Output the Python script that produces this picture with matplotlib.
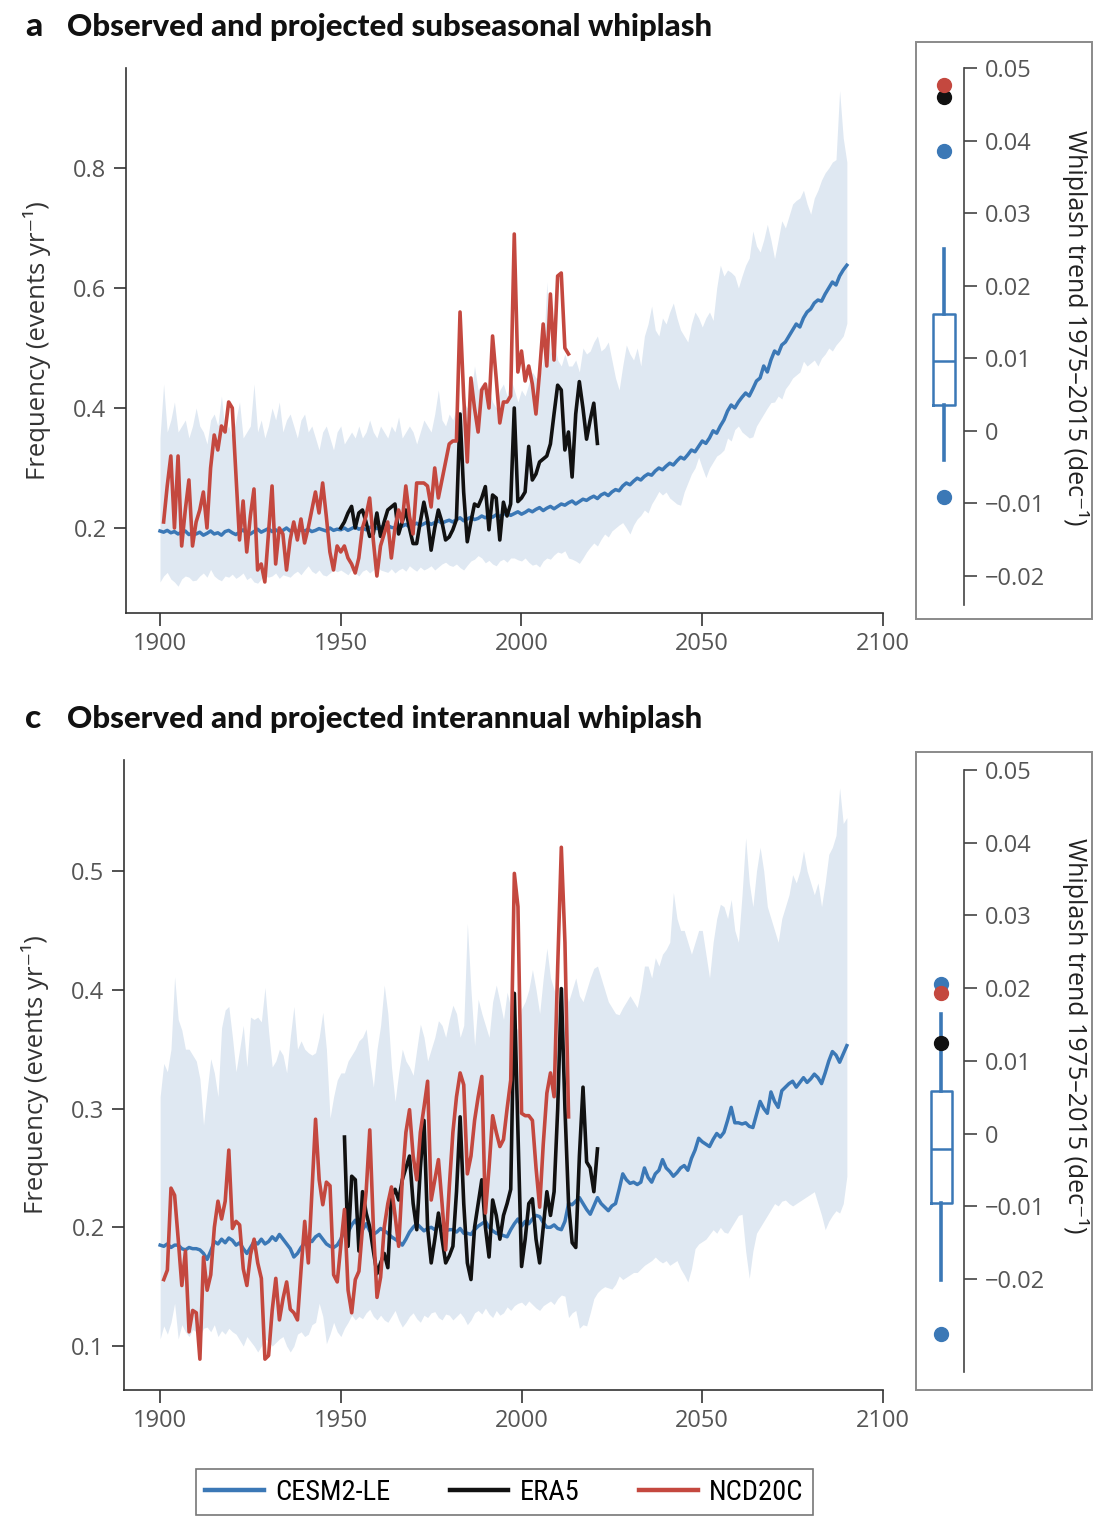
import numpy as np
import matplotlib
matplotlib.use("Agg")
import matplotlib.pyplot as plt
from matplotlib.patches import Rectangle
from matplotlib.lines import Line2D

# ---------------- data ----------------
years_model = list(range(1900, 2091))

# Panel a (subseasonal)
a_cesm_mean = [
    0.195, 0.193, 0.196, 0.192, 0.194, 0.190, 0.193, 0.195, 0.189, 0.192,
    0.190, 0.193, 0.188, 0.191, 0.195, 0.190, 0.192, 0.188, 0.194, 0.196,
    0.192, 0.189, 0.193, 0.197, 0.191, 0.190, 0.194, 0.198, 0.193, 0.196,
    0.199, 0.194, 0.197, 0.193, 0.196, 0.200, 0.195, 0.198, 0.194, 0.197,
    0.195, 0.198, 0.194, 0.196, 0.199, 0.197, 0.195, 0.200, 0.196, 0.198,
    0.197, 0.200, 0.196, 0.199, 0.202, 0.198, 0.200, 0.197, 0.201, 0.203,
    0.199, 0.202, 0.200, 0.204, 0.201, 0.200, 0.205, 0.203, 0.206, 0.202,
    0.205, 0.208, 0.204, 0.207, 0.210, 0.206, 0.209, 0.212, 0.208, 0.211,
    0.213, 0.210, 0.214, 0.217, 0.212, 0.215, 0.218, 0.214, 0.216, 0.220,
    0.217, 0.221, 0.218, 0.222, 0.219, 0.223, 0.225, 0.221, 0.224, 0.227,
    0.223, 0.226, 0.230, 0.227, 0.231, 0.234, 0.229, 0.233, 0.236, 0.232,
    0.236, 0.240, 0.238, 0.242, 0.245, 0.240, 0.244, 0.248, 0.246, 0.250,
    0.253, 0.249, 0.255, 0.258, 0.254, 0.260, 0.264, 0.262, 0.270, 0.275,
    0.272, 0.278, 0.283, 0.280, 0.286, 0.290, 0.288, 0.295, 0.300, 0.297,
    0.303, 0.308, 0.305, 0.312, 0.318, 0.315, 0.322, 0.330, 0.327, 0.336,
    0.345, 0.341, 0.350, 0.362, 0.358, 0.370, 0.380, 0.395, 0.405, 0.400,
    0.410, 0.418, 0.425, 0.420, 0.432, 0.445, 0.450, 0.470, 0.460, 0.480,
    0.495, 0.490, 0.505, 0.510, 0.520, 0.530, 0.540, 0.535, 0.550, 0.560,
    0.565, 0.575, 0.580, 0.578, 0.590, 0.600, 0.610, 0.605, 0.620, 0.630,
    0.638]
a_cesm_high = [
    0.35, 0.44, 0.36, 0.38, 0.41, 0.36, 0.37, 0.38, 0.35, 0.37,
    0.40, 0.37, 0.36, 0.34, 0.38, 0.39, 0.37, 0.42, 0.36, 0.37,
    0.35, 0.38, 0.41, 0.35, 0.36, 0.37, 0.44, 0.36, 0.38, 0.35,
    0.37, 0.40, 0.38, 0.41, 0.36, 0.38, 0.39, 0.37, 0.35, 0.38,
    0.39, 0.36, 0.37, 0.35, 0.33, 0.36, 0.37, 0.35, 0.33, 0.36,
    0.37, 0.34, 0.35, 0.36, 0.35, 0.37, 0.35, 0.36, 0.38, 0.36,
    0.35, 0.37, 0.36, 0.35, 0.37, 0.36, 0.385, 0.35, 0.36, 0.37,
    0.36, 0.34, 0.36, 0.38, 0.37, 0.36, 0.39, 0.43, 0.38, 0.37,
    0.39, 0.38, 0.40, 0.39, 0.41, 0.40, 0.42, 0.47, 0.43, 0.44,
    0.42, 0.43, 0.41, 0.40, 0.43, 0.44, 0.42, 0.45, 0.43, 0.41,
    0.43, 0.42, 0.44, 0.46, 0.45, 0.45, 0.48, 0.61, 0.49, 0.51,
    0.48, 0.47, 0.49, 0.47, 0.47, 0.48, 0.46, 0.50, 0.49, 0.495,
    0.51, 0.52, 0.495, 0.50, 0.51, 0.48, 0.45, 0.43, 0.47, 0.505,
    0.49, 0.48, 0.50, 0.47, 0.52, 0.54, 0.57, 0.53, 0.52, 0.55,
    0.54, 0.56, 0.575, 0.55, 0.53, 0.52, 0.51, 0.54, 0.56, 0.55,
    0.535, 0.55, 0.56, 0.546, 0.60, 0.638, 0.62, 0.63, 0.626, 0.62,
    0.60, 0.62, 0.638, 0.65, 0.695, 0.67, 0.66, 0.68, 0.706, 0.68,
    0.649, 0.68, 0.712, 0.70, 0.72, 0.74, 0.746, 0.75, 0.763, 0.74,
    0.723, 0.75, 0.763, 0.78, 0.792, 0.80, 0.81, 0.814, 0.929, 0.85,
    0.81]
a_cesm_low = [
    0.110, 0.120, 0.126, 0.115, 0.110, 0.103, 0.115, 0.120, 0.118, 0.112,
    0.113, 0.120, 0.125, 0.118, 0.131, 0.120, 0.115, 0.112, 0.120, 0.118,
    0.123, 0.116, 0.120, 0.125, 0.114, 0.118, 0.110, 0.108, 0.115, 0.120,
    0.118, 0.120, 0.125, 0.116, 0.122, 0.120, 0.118, 0.124, 0.128, 0.122,
    0.130, 0.137, 0.128, 0.124, 0.130, 0.122, 0.120, 0.125, 0.130, 0.127,
    0.130, 0.126, 0.122, 0.130, 0.125, 0.120, 0.128, 0.131, 0.125, 0.130,
    0.137, 0.130, 0.128, 0.126, 0.132, 0.125, 0.130, 0.133, 0.128, 0.137,
    0.132, 0.128, 0.135, 0.130, 0.133, 0.137, 0.130, 0.135, 0.140, 0.143,
    0.138, 0.136, 0.140, 0.134, 0.130, 0.138, 0.145, 0.148, 0.154, 0.150,
    0.142, 0.146, 0.140, 0.137, 0.145, 0.148, 0.143, 0.150, 0.150, 0.147,
    0.145, 0.150, 0.143, 0.138, 0.140, 0.135, 0.145, 0.150, 0.148, 0.155,
    0.160, 0.158, 0.162, 0.150, 0.148, 0.145, 0.141, 0.150, 0.160, 0.168,
    0.175, 0.170, 0.181, 0.190, 0.185, 0.195, 0.200, 0.205, 0.209, 0.200,
    0.190, 0.205, 0.215, 0.221, 0.230, 0.225, 0.240, 0.250, 0.261, 0.255,
    0.260, 0.250, 0.245, 0.240, 0.238, 0.260, 0.275, 0.290, 0.300, 0.318,
    0.300, 0.284, 0.300, 0.310, 0.320, 0.324, 0.330, 0.350, 0.345, 0.364,
    0.370, 0.360, 0.355, 0.350, 0.352, 0.370, 0.380, 0.390, 0.400, 0.409,
    0.410, 0.420, 0.415, 0.432, 0.440, 0.450, 0.455, 0.460, 0.478, 0.470,
    0.475, 0.480, 0.470, 0.483, 0.490, 0.500, 0.495, 0.505, 0.512, 0.520,
    0.541]

a_ncd_years = list(range(1901, 2014))
a_ncd = [
    0.21, 0.27, 0.32, 0.20, 0.32, 0.17, 0.23, 0.28, 0.17,
    0.21, 0.23, 0.26, 0.20, 0.30, 0.355, 0.33, 0.37, 0.36, 0.41,
    0.40, 0.29, 0.18, 0.245, 0.16, 0.22, 0.265, 0.13, 0.14, 0.11,
    0.19, 0.27, 0.14, 0.20, 0.19, 0.13, 0.18, 0.21, 0.18, 0.215,
    0.175, 0.20, 0.23, 0.26, 0.225, 0.275, 0.22, 0.16, 0.13, 0.17,
    0.16, 0.17, 0.15, 0.14, 0.125, 0.15, 0.20, 0.22, 0.25, 0.18,
    0.12, 0.17, 0.19, 0.21, 0.15, 0.20, 0.23, 0.21, 0.27, 0.22,
    0.19, 0.275, 0.275, 0.275, 0.27, 0.235, 0.30, 0.25, 0.28, 0.31,
    0.34, 0.345, 0.345, 0.56, 0.42, 0.31, 0.45, 0.40, 0.36, 0.43,
    0.44, 0.40, 0.52, 0.45, 0.375, 0.41, 0.41, 0.42, 0.69, 0.46,
    0.495, 0.445, 0.47, 0.44, 0.39, 0.46, 0.54, 0.47, 0.59, 0.48,
    0.62, 0.625, 0.50, 0.49]

a_era_years = list(range(1950, 2022))
a_era = [
    0.20, 0.21, 0.225, 0.236, 0.20, 0.225, 0.23, 0.21, 0.186, 0.19,
    0.225, 0.186, 0.21, 0.23, 0.235, 0.24, 0.19, 0.21, 0.23, 0.20,
    0.174, 0.174, 0.21, 0.243, 0.214, 0.163, 0.20, 0.23, 0.21, 0.18,
    0.185, 0.197, 0.214, 0.39, 0.26, 0.177, 0.21, 0.24, 0.236, 0.25,
    0.269, 0.197, 0.255, 0.25, 0.18, 0.243, 0.22, 0.24, 0.40, 0.244,
    0.25, 0.26, 0.336, 0.28, 0.29, 0.31, 0.315, 0.32, 0.34, 0.39,
    0.438, 0.43, 0.33, 0.36, 0.285, 0.39, 0.444, 0.40, 0.348, 0.38,
    0.408, 0.341]

# Panel c (interannual)
c_cesm_mean = [
    0.185, 0.184, 0.186, 0.183, 0.185, 0.185, 0.182, 0.181, 0.183, 0.182,
    0.182, 0.181, 0.178, 0.173, 0.180, 0.188, 0.186, 0.190, 0.187, 0.191,
    0.189, 0.185, 0.187, 0.182, 0.178, 0.183, 0.188, 0.186, 0.190, 0.186,
    0.188, 0.192, 0.189, 0.194, 0.190, 0.186, 0.182, 0.175, 0.178, 0.183,
    0.187, 0.190, 0.188, 0.192, 0.194, 0.190, 0.186, 0.184, 0.183, 0.185,
    0.190, 0.198, 0.196, 0.202, 0.206, 0.200, 0.198, 0.203, 0.197, 0.194,
    0.196, 0.199, 0.197, 0.195, 0.192, 0.190, 0.188, 0.185, 0.190, 0.196,
    0.200, 0.203, 0.200, 0.197, 0.199, 0.200, 0.198, 0.202, 0.199, 0.197,
    0.198, 0.198, 0.196, 0.199, 0.195, 0.195, 0.194, 0.198, 0.201, 0.203,
    0.205, 0.200, 0.197, 0.195, 0.194, 0.193, 0.192, 0.198, 0.203, 0.207,
    0.201, 0.205, 0.203, 0.207, 0.210, 0.209, 0.204, 0.200, 0.200, 0.202,
    0.199, 0.198, 0.205, 0.220, 0.219, 0.222, 0.225, 0.220, 0.215, 0.211,
    0.218, 0.225, 0.220, 0.217, 0.214, 0.218, 0.220, 0.232, 0.245, 0.240,
    0.237, 0.238, 0.236, 0.238, 0.250, 0.242, 0.238, 0.245, 0.248, 0.257,
    0.250, 0.247, 0.243, 0.246, 0.250, 0.252, 0.248, 0.258, 0.265, 0.275,
    0.272, 0.270, 0.268, 0.274, 0.279, 0.276, 0.280, 0.290, 0.301, 0.288,
    0.288, 0.287, 0.288, 0.285, 0.284, 0.295, 0.306, 0.300, 0.296, 0.314,
    0.306, 0.301, 0.315, 0.318, 0.321, 0.323, 0.318, 0.322, 0.326, 0.322,
    0.325, 0.329, 0.326, 0.321, 0.330, 0.340, 0.348, 0.345, 0.339, 0.346,
    0.353]
c_cesm_high = [
    0.310, 0.338, 0.331, 0.350, 0.411, 0.375, 0.366, 0.350, 0.350, 0.345,
    0.340, 0.325, 0.286, 0.315, 0.342, 0.330, 0.310, 0.368, 0.383, 0.386,
    0.360, 0.331, 0.350, 0.370, 0.335, 0.377, 0.375, 0.377, 0.373, 0.402,
    0.365, 0.335, 0.340, 0.350, 0.345, 0.330, 0.360, 0.386, 0.350, 0.357,
    0.350, 0.347, 0.345, 0.347, 0.360, 0.381, 0.350, 0.292, 0.310, 0.324,
    0.330, 0.330, 0.340, 0.345, 0.350, 0.357, 0.360, 0.367, 0.340, 0.318,
    0.350, 0.370, 0.404, 0.380, 0.335, 0.306, 0.330, 0.350, 0.340, 0.335,
    0.328, 0.350, 0.371, 0.360, 0.340, 0.350, 0.360, 0.374, 0.370, 0.360,
    0.375, 0.387, 0.380, 0.360, 0.370, 0.456, 0.400, 0.353, 0.392, 0.380,
    0.370, 0.360, 0.390, 0.404, 0.390, 0.375, 0.398, 0.385, 0.370, 0.366,
    0.384, 0.390, 0.400, 0.417, 0.400, 0.380, 0.410, 0.435, 0.410, 0.400,
    0.390, 0.400, 0.404, 0.390, 0.400, 0.410, 0.395, 0.390, 0.400, 0.410,
    0.418, 0.420, 0.410, 0.400, 0.390, 0.385, 0.380, 0.379, 0.385, 0.390,
    0.395, 0.390, 0.385, 0.400, 0.420, 0.420, 0.410, 0.427, 0.420, 0.430,
    0.434, 0.440, 0.482, 0.460, 0.450, 0.450, 0.440, 0.430, 0.440, 0.450,
    0.450, 0.430, 0.410, 0.440, 0.460, 0.472, 0.470, 0.460, 0.476, 0.450,
    0.440, 0.480, 0.528, 0.490, 0.470, 0.500, 0.520, 0.500, 0.470, 0.460,
    0.450, 0.440, 0.460, 0.470, 0.480, 0.497, 0.490, 0.500, 0.517, 0.500,
    0.490, 0.480, 0.490, 0.470, 0.490, 0.514, 0.520, 0.530, 0.570, 0.540,
    0.545]
c_cesm_low = [
    0.106, 0.117, 0.110, 0.120, 0.136, 0.106, 0.118, 0.112, 0.108, 0.114,
    0.112, 0.108, 0.115, 0.116, 0.112, 0.118, 0.108, 0.113, 0.110, 0.115,
    0.112, 0.110, 0.105, 0.100, 0.108, 0.104, 0.100, 0.095, 0.100, 0.106,
    0.104, 0.100, 0.103, 0.106, 0.108, 0.100, 0.095, 0.100, 0.110, 0.112,
    0.108, 0.110, 0.118, 0.120, 0.136, 0.125, 0.102, 0.110, 0.120, 0.112,
    0.108, 0.115, 0.120, 0.126, 0.122, 0.125, 0.123, 0.128, 0.131, 0.125,
    0.122, 0.126, 0.122, 0.120, 0.125, 0.130, 0.122, 0.116, 0.120, 0.125,
    0.128, 0.123, 0.120, 0.126, 0.124, 0.128, 0.129, 0.124, 0.122, 0.127,
    0.126, 0.122, 0.125, 0.128, 0.124, 0.118, 0.122, 0.128, 0.130, 0.127,
    0.132, 0.127, 0.124, 0.130, 0.126, 0.128, 0.133, 0.130, 0.134, 0.136,
    0.137, 0.134, 0.138, 0.135, 0.132, 0.130, 0.134, 0.136, 0.138, 0.135,
    0.140, 0.143, 0.142, 0.124, 0.128, 0.130, 0.115, 0.118, 0.117, 0.128,
    0.140, 0.145, 0.148, 0.150, 0.149, 0.148, 0.152, 0.159, 0.156, 0.158,
    0.160, 0.162, 0.162, 0.165, 0.168, 0.170, 0.172, 0.175, 0.172, 0.170,
    0.172, 0.168, 0.170, 0.172, 0.165, 0.160, 0.154, 0.165, 0.182, 0.186,
    0.188, 0.190, 0.194, 0.198, 0.195, 0.200, 0.196, 0.195, 0.200, 0.205,
    0.210, 0.211, 0.180, 0.157, 0.180, 0.195, 0.200, 0.205, 0.210, 0.215,
    0.220, 0.218, 0.222, 0.223, 0.220, 0.218, 0.220, 0.222, 0.224, 0.226,
    0.228, 0.230, 0.220, 0.210, 0.198, 0.205, 0.210, 0.214, 0.212, 0.220,
    0.243]

c_ncd_years = list(range(1901, 2014))
c_ncd = [
    0.156, 0.164, 0.233, 0.227, 0.190, 0.151, 0.180, 0.112, 0.130,
    0.128, 0.089, 0.175, 0.147, 0.160, 0.200, 0.222, 0.207, 0.222, 0.265,
    0.199, 0.205, 0.202, 0.165, 0.151, 0.177, 0.190, 0.170, 0.157, 0.089,
    0.092, 0.130, 0.157, 0.122, 0.140, 0.154, 0.131, 0.128, 0.122, 0.165,
    0.205, 0.170, 0.230, 0.291, 0.240, 0.219, 0.238, 0.235, 0.160, 0.154,
    0.185, 0.215, 0.147, 0.128, 0.156, 0.163, 0.200, 0.230, 0.282, 0.200,
    0.141, 0.158, 0.200, 0.220, 0.234, 0.210, 0.184, 0.240, 0.280, 0.299,
    0.260, 0.240, 0.280, 0.301, 0.323, 0.223, 0.240, 0.257, 0.220, 0.181,
    0.234, 0.280, 0.310, 0.330, 0.320, 0.245, 0.260, 0.290, 0.310, 0.327,
    0.212, 0.250, 0.294, 0.280, 0.268, 0.274, 0.300, 0.324, 0.498, 0.470,
    0.296, 0.294, 0.294, 0.290, 0.250, 0.217, 0.270, 0.313, 0.330, 0.310,
    0.420, 0.520, 0.440, 0.293]

c_era_years = list(range(1951, 2022))
c_era = [
    0.276, 0.184, 0.243, 0.240, 0.180, 0.230, 0.212, 0.200, 0.180,
    0.161, 0.170, 0.178, 0.166, 0.226, 0.232, 0.223, 0.240, 0.250, 0.260,
    0.220, 0.198, 0.250, 0.290, 0.200, 0.170, 0.190, 0.212, 0.190, 0.170,
    0.176, 0.184, 0.230, 0.293, 0.220, 0.170, 0.156, 0.200, 0.220, 0.240,
    0.200, 0.175, 0.223, 0.210, 0.190, 0.210, 0.220, 0.232, 0.397, 0.280,
    0.167, 0.190, 0.220, 0.224, 0.190, 0.170, 0.200, 0.230, 0.210, 0.230,
    0.300, 0.401, 0.300, 0.220, 0.187, 0.183, 0.260, 0.318, 0.255, 0.250,
    0.230, 0.266]

# Box-plot summaries (whiplash trend 1975-2015, dec^-1)
a_box = dict(med=0.0096, q1=0.0036, q3=0.0161, whislo=-0.0040, whishi=0.0250,
             fliers=[0.0386, -0.0091])
a_ncd_trend = 0.0477
a_era_trend = 0.0460
c_box = dict(med=-0.0021, q1=-0.0096, q3=0.0059, whislo=-0.0202, whishi=0.0165,
             fliers=[0.0205, -0.0276])
c_ncd_trend = 0.0193
c_era_trend = 0.0124

side_ticks = [0.05, 0.04, 0.03, 0.02, 0.01, 0.0, -0.01, -0.02]
side_ticklabels = ["0.05", "0.04", "0.03", "0.02", "0.01", "0", "\u22120.01", "\u22120.02"]
year_ticks = [1900, 1950, 2000, 2050, 2100]
a_yticks = [0.2, 0.4, 0.6, 0.8]
c_yticks = [0.1, 0.2, 0.3, 0.4, 0.5]

# ---------------- style ----------------
BLUE = "#3b78b6"
RED = "#c4483f"
BLACK = "#111111"
BAND = "#dfe8f2"
GREY = "#555555"
FONT = ["Open Sans", "DejaVu Sans"]

plt.rcParams["font.family"] = FONT
plt.rcParams["axes.linewidth"] = 1.2

W, H = 1113, 1536
fig = plt.figure(figsize=(W / 100, H / 100), dpi=100)


def fbox(x0, y0, x1, y1):
    """pixel box (top-left origin) -> figure rect"""
    return [x0 / W, 1 - y1 / H, (x1 - x0) / W, (y1 - y0) / H]


def main_panel(rect, xlim, ylim, mean, high, low, ncd_y, ncd, era_y, era, yticks):
    ax = fig.add_axes(rect)
    ax.fill_between(years_model, low, high, color=BAND, lw=0, zorder=1)
    ax.plot(years_model, mean, color=BLUE, lw=2.5, zorder=3, solid_joinstyle="round")
    ax.plot(era_y, era, color=BLACK, lw=2.6, zorder=4, solid_joinstyle="round")
    ax.plot(ncd_y, ncd, color=RED, lw=2.6, zorder=5, solid_joinstyle="round")
    ax.set_xlim(xlim)
    ax.set_ylim(ylim)
    for s in ["top", "right"]:
        ax.spines[s].set_visible(False)
    for s in ["left", "bottom"]:
        ax.spines[s].set_color("#333333")
    ax.set_xticks(year_ticks)
    ax.set_xticklabels([str(y) for y in year_ticks])
    ax.set_yticks(yticks)
    ax.set_yticklabels(["%g" % v for v in yticks])
    ax.tick_params(length=9, width=1.2, color="#333333", labelcolor=GREY,
                   labelsize=17, pad=5)
    ax.set_ylabel("Frequency (events yr\u207b\u00b9)", fontsize=18.5, color="#333333",
                  labelpad=16)
    return ax


def side_panel(frame, rect, ylim, stats, ncd_t, era_t, xc, label_y):
    fig.patches.append(Rectangle((frame[0] / W, 1 - frame[3] / H),
                                 (frame[2] - frame[0]) / W, (frame[3] - frame[1]) / H,
                                 transform=fig.transFigure, fill=False,
                                 edgecolor="#8a8a8a", lw=1.4))
    ax = fig.add_axes(rect)
    ax.set_xlim(0, 1)
    ax.set_ylim(ylim)
    ax.patch.set_visible(False)
    for s in ["top", "left", "bottom"]:
        ax.spines[s].set_visible(False)
    ax.spines["right"].set_color("#444444")
    ax.yaxis.tick_right()
    st = dict(stats)
    ax.bxp([st], positions=[xc], widths=0.48, showfliers=True, patch_artist=False,
           manage_ticks=False,
           boxprops=dict(color=BLUE, lw=1.8),
           medianprops=dict(color=BLUE, lw=1.8),
           whiskerprops=dict(color=BLUE, lw=2.6),
           capprops=dict(lw=0),
           flierprops=dict(marker="o", markerfacecolor=BLUE, markeredgecolor=BLUE,
                           markersize=10))
    ax.plot([xc], [era_t], "o", color=BLACK, ms=10, zorder=5)
    ax.plot([xc], [ncd_t], "o", color=RED, ms=10, zorder=6)
    ax.set_xlim(0, 1)
    ax.set_xticks([])
    ax.set_yticks(side_ticks)
    ax.set_yticklabels(side_ticklabels)
    ax.tick_params(axis="y", length=9, width=1.2, color="#444444", labelcolor=GREY,
                   labelsize=17, pad=6)
    fig.text(1075 / W, 1 - label_y / H, "Whiplash trend 1975\u20132015 (dec\u207b\u00b9)",
             rotation=270, ha="center", va="center", fontsize=18, color="#222222")
    return ax


# Panel a
main_panel(fbox(126, 68, 883, 613), (1890.6, 2100), (0.0583, 0.9667),
           a_cesm_mean, a_cesm_high, a_cesm_low, a_ncd_years, a_ncd,
           a_era_years, a_era, a_yticks)
side_panel((916, 42, 1092, 619), fbox(920, 68, 964, 605), (-0.024, 0.05),
           a_box, a_ncd_trend, a_era_trend, 0.545, 328)

# Panel c
main_panel(fbox(124, 760, 883, 1390), (1890.0, 2100), (0.063, 0.5935),
           c_cesm_mean, c_cesm_high, c_cesm_low, c_ncd_years, c_ncd,
           c_era_years, c_era, c_yticks)
side_panel((916, 752, 1092, 1390), fbox(920, 770, 964, 1372), (-0.0328, 0.05),
           c_box, c_ncd_trend, c_era_trend, 0.48, 1036)

# Titles
TFONT = ["Lato", "Open Sans", "DejaVu Sans"]
for ytop, letter, title in [(27, "a", "Observed and projected subseasonal whiplash"),
                            (719, "c", "Observed and projected interannual whiplash")]:
    fig.text(25 / W, 1 - ytop / H, letter, ha="left", va="center", fontsize=24,
             fontweight="black", color="#111111", family=TFONT)
    fig.text(67 / W, 1 - ytop / H, title, ha="left", va="center", fontsize=22.5,
             fontweight="black", color="#111111", family=TFONT)

# Legend
handles = [Line2D([], [], color=BLUE, lw=3.2), Line2D([], [], color=BLACK, lw=3.2),
           Line2D([], [], color=RED, lw=3.2)]
leg = fig.legend(handles, ["CESM2-LE", "ERA5", "NCD20C"], ncol=3,
                 loc="center", bbox_to_anchor=(504.5 / W, 1 - 1492 / H),
                 frameon=True, fancybox=False, handlelength=2.05,
                 columnspacing=2.1, handletextpad=0.4, borderpad=0.32,
                 borderaxespad=0.0,
                 prop=dict(family=["Roboto Condensed", "Liberation Sans Narrow", "Roboto", "DejaVu Sans"],
                           size=20.5))
leg.get_frame().set_edgecolor("#555555")
leg.get_frame().set_linewidth(1.2)

fig.savefig("out.png", dpi=100)
